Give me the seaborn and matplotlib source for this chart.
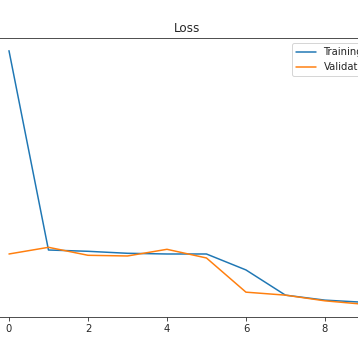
import pandas as pd
import matplotlib
matplotlib.use("Agg")
import matplotlib.pyplot as plt
import seaborn as sns

# Data (skala sumbu y tidak terlihat)
epoch = [0, 1, 2, 3, 4, 5, 6, 7, 8, 9]
training_loss = [2.70, 0.70, 0.687, 0.667, 0.66, 0.66, 0.50, 0.247, 0.197, 0.175]
validation_loss = [0.66, 0.727, 0.647, 0.64, 0.707, 0.62, 0.277, 0.247, 0.19, 0.155]
labels = ["Training", "Validation"]


def buat_data():
    """Susun data ke format panjang untuk seaborn."""
    df_train = pd.DataFrame({"epoch": epoch, "loss": training_loss, "jenis": labels[0]})
    df_val = pd.DataFrame({"epoch": epoch, "loss": validation_loss, "jenis": labels[1]})
    return pd.concat([df_train, df_val], ignore_index=True)


def main():
    data = buat_data()
    sns.set_style("ticks")

    fig = plt.figure(figsize=(358 / 72, 358 / 72), dpi=72)
    # Sumbu sengaja lebih lebar dari gambar (gambar asli terpotong)
    ax = fig.add_axes([-8.8 / 358, 41 / 358, 391 / 358, 279 / 358])

    sns.lineplot(data=data, x="epoch", y="loss", hue="jenis",
                 palette=["#1f77b4", "#ff7f0e"], linewidth=1.5, ax=ax)

    ax.set_title("Loss", fontsize=12)
    ax.set_xlabel("")
    ax.set_ylabel("")
    ax.set_xticks([0, 2, 4, 6, 8])
    # Label sumbu y tidak tampak pada gambar asli
    ax.tick_params(axis="y", left=False, labelleft=False)
    ax.legend(loc="upper right", fontsize=10)
    for s in ax.spines.values():
        s.set_visible(True)

    fig.savefig("out.png", dpi=72)


if __name__ == "__main__":
    main()
